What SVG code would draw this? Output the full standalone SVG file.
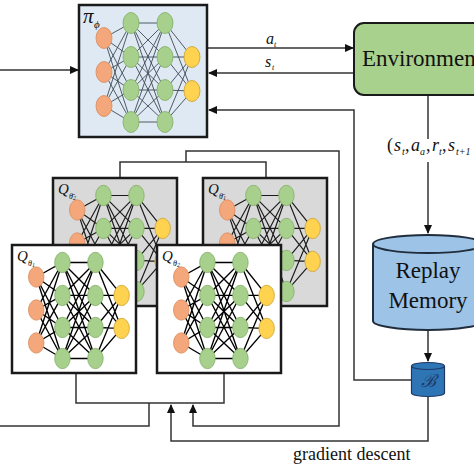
<svg xmlns="http://www.w3.org/2000/svg" xmlns:xlink="http://www.w3.org/1999/xlink" width="474" height="474" viewBox="0 0 474 474">
<style>
.ser{font-family:"Liberation Serif","DejaVu Serif",serif;fill:#111}
.it{font-style:italic}
.box{stroke:#1a1a1a;stroke-width:2.5}
.conn{fill:none;stroke:#333;stroke-width:1.5}
</style>
<defs>
<marker id="arr" markerWidth="9" markerHeight="8" refX="8" refY="4" orient="auto" markerUnits="userSpaceOnUse">
<path d="M0,0 L9,4 L0,8 Z" fill="#111"/>
</marker>
<g id="net">
<path fill="none" d="M25 33L52 18M25 33L52 52M25 33L52 85M25 33L52 117M25 67L52 18M25 67L52 52M25 67L52 85M25 67L52 117M25 101L52 18M25 101L52 52M25 101L52 85M25 101L52 117M52 18L86 18M52 18L86 52M52 18L86 85M52 18L86 117M52 52L86 18M52 52L86 52M52 52L86 85M52 52L86 117M52 85L86 18M52 85L86 52M52 85L86 85M52 85L86 117M52 117L86 18M52 117L86 52M52 117L86 85M52 117L86 117M86 18L113 52M86 18L113 86M86 52L113 52M86 52L113 86M86 85L113 52M86 85L113 86M86 117L113 52M86 117L113 86"/>
<g stroke-width="0.8">
<ellipse cx="25" cy="33" rx="8" ry="10.5" fill="#f4a77a" stroke="#d98a5c"/>
<ellipse cx="25" cy="67" rx="8" ry="10.5" fill="#f4a77a" stroke="#d98a5c"/>
<ellipse cx="25" cy="101" rx="8" ry="10.5" fill="#f4a77a" stroke="#d98a5c"/>
<ellipse cx="52" cy="18" rx="8" ry="10.5" fill="#a8d08d" stroke="#7fae63"/>
<ellipse cx="52" cy="52" rx="8" ry="10.5" fill="#a8d08d" stroke="#7fae63"/>
<ellipse cx="52" cy="85" rx="8" ry="10.5" fill="#a8d08d" stroke="#7fae63"/>
<ellipse cx="52" cy="117" rx="8" ry="10.5" fill="#a8d08d" stroke="#7fae63"/>
<ellipse cx="86" cy="18" rx="8" ry="10.5" fill="#a8d08d" stroke="#7fae63"/>
<ellipse cx="86" cy="52" rx="8" ry="10.5" fill="#a8d08d" stroke="#7fae63"/>
<ellipse cx="86" cy="85" rx="8" ry="10.5" fill="#a8d08d" stroke="#7fae63"/>
<ellipse cx="86" cy="117" rx="8" ry="10.5" fill="#a8d08d" stroke="#7fae63"/>
<ellipse cx="113" cy="52" rx="8" ry="10.5" fill="#ffd34f" stroke="#c9a030"/>
<ellipse cx="113" cy="86" rx="8" ry="10.5" fill="#ffd34f" stroke="#c9a030"/>
</g>
</g>
</defs>
<rect width="474" height="474" fill="#fff"/>

<g id="connectors" class="conn">
<path d="M0,70 H78" marker-end="url(#arr)"/>
<path d="M207,48 H353" marker-end="url(#arr)"/>
<path d="M354,73 H209" marker-end="url(#arr)"/>
<path d="M411,380 H354 V110 H209" marker-end="url(#arr)"/>
<path d="M428,95 V139"/>
<path d="M428,162 V233" marker-end="url(#arr)"/>
<path d="M428,330 V361" marker-end="url(#arr)"/>
<path d="M428,396 V441 H171 V405" marker-end="url(#arr)"/>
<path d="M120,178 V162 H266 V178"/>
<path d="M186,162 V151 H339 V426 H193 V405" marker-end="url(#arr)"/>
<path d="M76,373 V403 H224 V373"/>
<path d="M149,403 V426 H0"/>
</g>

<g id="policy">
<rect x="79" y="5" width="128" height="132" fill="#dfe9f4" class="box"/>
<use xlink:href="#net" x="79" y="5" stroke="#3d4a55" stroke-width="0.9"/>
<text x="83" y="23" class="ser it" font-size="21">π</text>
<text x="94" y="28" class="ser it" font-size="11">ϕ</text>
</g>

<g id="q-target-2">
<rect x="53" y="178" width="124" height="128" fill="#d9d9d9" class="box"/>
<use xlink:href="#net" transform="translate(53,178) scale(0.97)" stroke="#1a1a1a" stroke-width="1.2"/>
<text x="58" y="194" class="ser it" font-size="15">Q</text>
<text x="69" y="199" class="ser it" font-size="8">θ̄<tspan font-size="6" dy="1">2</tspan></text>
</g>

<g id="q-target-1">
<rect x="203" y="178" width="124" height="128" fill="#d9d9d9" class="box"/>
<use xlink:href="#net" transform="translate(203,178) scale(0.97)" stroke="#1a1a1a" stroke-width="1.2"/>
<text x="208" y="194" class="ser it" font-size="15">Q</text>
<text x="219" y="199" class="ser it" font-size="8">θ̄<tspan font-size="6" dy="1">1</tspan></text>
</g>

<g id="q-1">
<rect x="12" y="245" width="124" height="128" fill="#fff" class="box"/>
<use xlink:href="#net" transform="translate(12,245) scale(0.97)" stroke="#000" stroke-width="1.4"/>
<text x="17" y="261" class="ser it" font-size="15">Q</text>
<text x="28" y="266" class="ser it" font-size="8">θ<tspan font-size="6" dy="1">1</tspan></text>
</g>

<g id="q-2">
<rect x="157" y="245" width="124" height="128" fill="#fff" class="box"/>
<use xlink:href="#net" transform="translate(157,245) scale(0.97)" stroke="#000" stroke-width="1.4"/>
<text x="162" y="261" class="ser it" font-size="15">Q</text>
<text x="173" y="266" class="ser it" font-size="8">θ<tspan font-size="6" dy="1">2</tspan></text>
</g>

<g id="environment">
<rect x="354" y="23" width="140" height="72" rx="10" fill="#a9d18e" stroke="#1a1a1a" stroke-width="2"/>
<text x="362" y="66" class="ser" font-size="23">Environment</text>
</g>

<g id="replay-memory">
<path d="M373,244 V321 A55,9 0 0 0 483,321 V244" fill="#9dc3e6" stroke="#1f2d3d" stroke-width="2"/>
<ellipse cx="428" cy="244" rx="55" ry="9" fill="#9dc3e6" stroke="#1f2d3d" stroke-width="2"/>
<text x="428" y="278" class="ser" font-size="23" text-anchor="middle">Replay</text>
<text x="428" y="308" class="ser" font-size="23" text-anchor="middle">Memory</text>
</g>

<g id="batch">
<path d="M411.5,366 V393 A16.5,3.5 0 0 0 444.5,393 V366" fill="#2e75b6" stroke="#1f3864" stroke-width="1.2"/>
<ellipse cx="428" cy="366" rx="16.5" ry="3.5" fill="#2e75b6" stroke="#1f3864" stroke-width="1.2"/>
<text x="428" y="387" font-family="'DejaVu Serif','Liberation Serif',serif" font-style="italic" font-size="18" fill="#1f3864" text-anchor="middle">ℬ</text>
</g>

<g id="labels" class="ser">
<text x="266" y="44" class="it" font-size="16">a</text>
<text x="274" y="47" class="it" font-size="8">t</text>
<text x="265" y="67" class="it" font-size="16">s</text>
<text x="272" y="70" class="it" font-size="8">t</text>
<text x="387" y="151" font-size="18">(</text>
<text x="394" y="151" class="it" font-size="18">s</text>
<text x="402" y="155" class="it" font-size="10">t</text>
<text x="405" y="151" font-size="18">,</text>
<text x="411" y="151" class="it" font-size="18">a</text>
<text x="420" y="155" class="it" font-size="10">a</text>
<text x="426" y="151" font-size="18">,</text>
<text x="432" y="151" class="it" font-size="18">r</text>
<text x="439" y="155" class="it" font-size="10">t</text>
<text x="442" y="151" font-size="18">,</text>
<text x="448" y="151" class="it" font-size="18">s</text>
<text x="456" y="155" class="it" font-size="10">t+1</text>
<text x="293" y="460" font-size="18">gradient descent</text>
</g>
</svg>
